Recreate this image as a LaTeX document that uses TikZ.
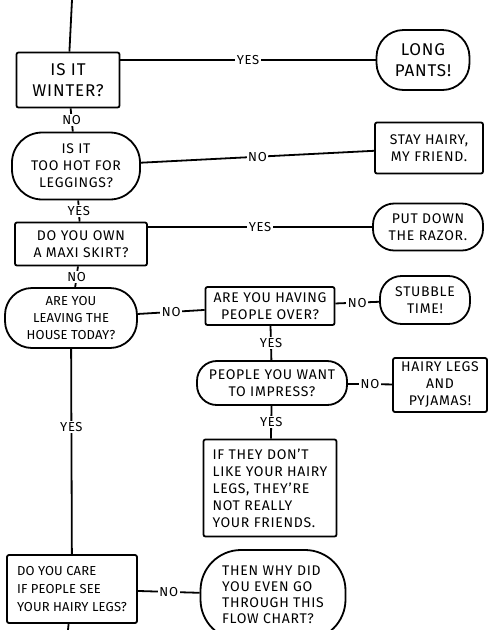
\documentclass[tikz,border=0pt]{standalone}
\usepackage{fontspec}
\setmainfont{Fira Sans}[LetterSpace=5]
\usetikzlibrary{positioning,calc}

\begin{document}
\begin{tikzpicture}[
    x=1pt, y=-1pt,
    font=\fontsize{14}{17}\selectfont,
    box/.style 2 args={
        draw=black,
        rounded corners=2pt,
        minimum width=#1,
        minimum height=#2,
        align=center,
        inner sep=1pt,
        line width=1.8pt
    },
    bubble/.style 2 args={
        draw=black,
        rounded corners=0.45*#2,
        minimum width=#1,
        minimum height=#2,
        align=center,
        inner sep=0pt,
        line width=1.8pt
    },
    answer/.style={
        fill=white,
        inner sep=1.5pt,
        font=\fontsize{13}{15}\selectfont
    },
    tight/.style={font=\fontsize{13}{#1}\selectfont\addfontfeature{LetterSpace=1}},
    flow/.style={line width=1.8pt}
]
\useasboundingbox (0,0) rectangle (500,630);

%-----------------------------------
% Left column: questions
%-----------------------------------
\coordinate (start) at (72,0);
\node[box={103pt}{55pt}, font=\fontsize{17}{21}\selectfont] (winter) at (68,80) {IS IT\\WINTER?};
\node[bubble={128pt}{67pt}] (leggings) at (76,166) {IS IT\\TOO HOT FOR\\LEGGINGS?};
\node[box={132pt}{43pt}] (maxi) at (81,244) {DO YOU OWN\\A MAXI SKIRT?};
\node[bubble={132pt}{60pt}, tight=17] (leaving) at (71,318) {ARE YOU\\LEAVING THE\\HOUSE TODAY?};
\node[box={130pt}{68pt}, align=left, tight=18] (care) at (72,589) {DO YOU CARE\\IF PEOPLE SEE\\YOUR HAIRY LEGS?};
\coordinate (finish) at (68,630);

%-----------------------------------
% Middle column: follow-up
%-----------------------------------
\node[box={129pt}{38pt}] (over) at (270,306) {ARE YOU HAVING\\PEOPLE OVER?};
\node[bubble={150pt}{44pt}] (impress) at (272,383) {PEOPLE YOU WANT\\TO IMPRESS?};
\node[box={133pt}{97pt}, align=left] (friends) at (270,488) {IF THEY DON'T\\LIKE YOUR HAIRY\\LEGS, THEY'RE\\NOT REALLY\\YOUR FRIENDS.};
\node[bubble={145pt}{90pt}, align=left, font=\fontsize{14}{16}\selectfont] (why) at (273,595) {THEN WHY DID\\YOU EVEN GO\\THROUGH THIS\\FLOW CHART?};

%-----------------------------------
% Right column: answers
%-----------------------------------
\node[bubble={93pt}{60pt}, font=\fontsize{17}{21}\selectfont] (pants) at (423,60) {LONG\\PANTS!};
\node[box={108pt}{51pt}] (hairy) at (429,148) {STAY HAIRY,\\MY FRIEND.};
\node[bubble={110pt}{47pt}] (razor) at (428,227) {PUT DOWN\\THE RAZOR.};
\node[bubble={90pt}{48pt}] (stubble) at (425,300) {STUBBLE\\TIME!};
\node[box={94pt}{54pt}] (pyjamas) at (440,385) {HAIRY LEGS\\AND\\PYJAMAS!};

%-----------------------------------
% Connectors
%-----------------------------------
\draw[flow] (start) -- (winter);
\draw[flow] (pants.west -| winter.east) -- node[answer] {YES} (pants.west);
\draw[flow] (winter) -- node[answer] {NO} (leggings);
\draw[flow] (leggings) -- node[answer] {NO} (hairy);
\draw[flow] (leggings) -- node[answer] {YES} (maxi);
\draw[flow] (razor.west -| maxi.east) -- node[answer] {YES} (razor.west);
\draw[flow] (maxi) -- node[answer] {NO} (leaving);
\draw[flow] (leaving) -- node[answer] {NO} (over);
\draw[flow] (over) -- node[answer] {NO} (stubble);
\draw[flow] (over) -- node[answer] {YES} (impress);
\draw[flow] (impress) -- node[answer] {NO} (pyjamas);
\draw[flow] (impress) -- node[answer] {YES} (friends);
\draw[flow] (leaving) -- node[answer, pos=0.38] {YES} (care);
\draw[flow] (care) -- node[answer] {NO} (why);
\draw[flow] (care) -- (finish);

\end{tikzpicture}
\end{document}
